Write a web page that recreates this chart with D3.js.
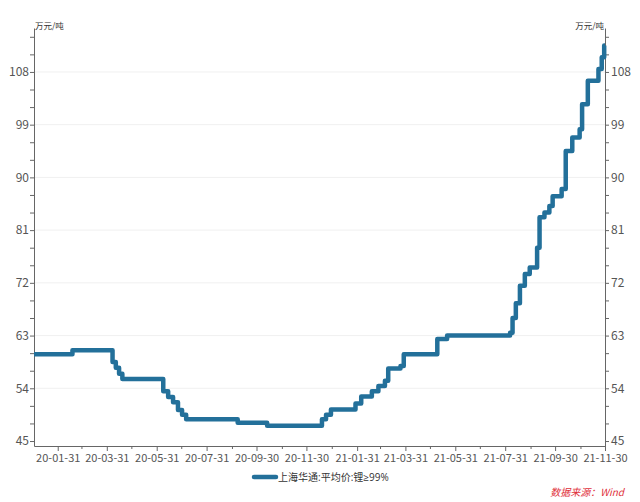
<!DOCTYPE html>
<html>
<head>
<meta charset="utf-8">
<script src="https://cdn.jsdelivr.net/npm/d3@7"></script>
<style>
	body { margin: 0; background: #fff; }
	text { font-family: "Noto Sans CJK SC", "Noto Sans", sans-serif; }
</style>
</head>
<body>
<svg id="chart"></svg>
<script>
// step changes: date the price moved to the level
var priceDates = [
	"2020-01-02", "2020-02-18", "2020-04-07", "2020-04-11", "2020-04-15", "2020-04-19",
	"2020-06-08", "2020-06-14", "2020-06-20", "2020-06-26", "2020-07-01", "2020-07-06",
	"2020-09-07", "2020-10-13", "2020-12-19", "2020-12-24", "2020-12-30",
	"2021-01-29", "2021-02-05", "2021-02-18", "2021-02-26", "2021-03-06", "2021-03-10",
	"2021-03-25", "2021-03-29", "2021-05-09", "2021-05-21",
	"2021-08-06", "2021-08-09", "2021-08-13", "2021-08-18", "2021-08-24", "2021-08-30",
	"2021-09-08", "2021-09-11", "2021-09-17", "2021-09-23", "2021-09-27", "2021-10-08",
	"2021-10-13", "2021-10-21", "2021-10-30", "2021-11-02", "2021-11-09", "2021-11-22",
	"2021-11-26", "2021-11-29", "2021-11-30"
];
var priceValues = [
	59.8, 60.5, 58.5, 57.5, 56.5, 55.6,
	53.5, 52.5, 51.6, 50.3, 49.5, 48.7,
	48.1, 47.6, 48.7, 49.5, 50.4,
	51.4, 52.6, 53.5, 54.4, 55.3, 57.4,
	57.8, 59.8, 62.4, 63.0,
	63.5, 66.0, 68.5, 71.5, 73.5, 74.6,
	78.0, 83.2, 84.0, 85.1, 86.8, 88.0,
	94.5, 96.8, 98.2, 102.5, 106.5, 108.5,
	110.5, 112.5, 112.5
];
var xTickLabels = ["20-01-31", "20-03-31", "20-05-31", "20-07-31", "20-09-30", "20-11-30",
	"21-01-31", "21-03-31", "21-05-31", "21-07-31", "21-09-30", "21-11-30"];
var yTickLabels = [45, 54, 63, 72, 81, 90, 99, 108];
var seriesName = "上海华通:平均价:锂≥99%";
var unitLabel = "万元/吨";
var sourceLabel = "数据来源：Wind";

var width = 640, height = 502;
var margin = { top: 28, right: 35, bottom: 56, left: 34 };
var lineColor = "#23709a";

var svg = d3.select("#chart")
	.attr("width", width)
	.attr("height", height);

var parse = d3.utcParse("%Y-%m-%d");
var data = priceDates.map(function(d, i) { return { date: parse(d), value: priceValues[i] }; });

var xScale = d3.scaleUtc()
	.domain([parse("2020-01-02"), parse("2021-11-30")])
	.range([margin.left, width - margin.right]);
var yScale = d3.scaleLinear()
	.domain([44.15, 115.5])
	.range([height - margin.bottom, margin.top]);

// grid lines
svg.append("g").selectAll("line")
	.data(yTickLabels.slice(1))
	.enter().append("line")
	.attr("x1", margin.left)
	.attr("x2", width - margin.right)
	.attr("y1", function(d) { return yScale(d); })
	.attr("y2", function(d) { return yScale(d); })
	.attr("stroke", "#f0f0f0")
	.attr("stroke-width", 1);

// y axes: minor every 3, labels every 9
var yMinor = d3.range(45, 115, 3);
function styleAxis(g) {
	g.select(".domain").attr("stroke", "#666");
	g.selectAll(".tick line").attr("stroke", "#666");
	g.selectAll(".tick text").attr("fill", "#555").style("font-size", "12px");
}
var yLeft = svg.append("g")
	.attr("transform", "translate(" + margin.left + ",0)")
	.call(d3.axisLeft(yScale).tickValues(yMinor).tickSize(4).tickSizeOuter(0)
		.tickFormat(function(d) { return yTickLabels.indexOf(d) >= 0 ? d : ""; }))
	.call(styleAxis);
yLeft.selectAll(".tick text").attr("x", -5);
var yRight = svg.append("g")
	.attr("transform", "translate(" + (width - margin.right) + ",0)")
	.call(d3.axisRight(yScale).tickValues(yMinor).tickSize(4).tickSizeOuter(0)
		.tickFormat(function(d) { return yTickLabels.indexOf(d) >= 0 ? d : ""; }))
	.call(styleAxis);
yRight.selectAll(".tick text").attr("x", 6);

// x axis: month ends, labelled every other one
var monthEnds = d3.utcMonth.range(parse("2020-02-01"), parse("2021-12-02"))
	.map(function(d) { return d3.utcDay.offset(d, -1); });
var xAxis = svg.append("g")
	.attr("transform", "translate(0," + (height - margin.bottom) + ")")
	.call(d3.axisBottom(xScale).tickValues(monthEnds).tickSizeOuter(0)
		.tickFormat(function(d) {
			var f = d3.utcFormat("%y-%m-%d")(d);
			return xTickLabels.indexOf(f) >= 0 ? f : "";
		}))
	.call(styleAxis);
xAxis.selectAll(".tick line").attr("y2", function(d) {
	return xTickLabels.indexOf(d3.utcFormat("%y-%m-%d")(d)) >= 0 ? 5 : 3;
});
xAxis.selectAll(".tick text").style("font-size", "11px").attr("y", 8);

// units
svg.append("text")
	.attr("x", margin.left + 1).attr("y", 29)
	.attr("fill", "#333").style("font-size", "8.5px")
	.text(unitLabel);
svg.append("text")
	.attr("x", width - margin.right - 1).attr("y", 29)
	.attr("text-anchor", "end")
	.attr("fill", "#333").style("font-size", "8.5px")
	.text(unitLabel);

// price line
var line = d3.line()
	.x(function(d) { return xScale(d.date); })
	.y(function(d) { return yScale(d.value); })
	.curve(d3.curveStepAfter);
svg.append("path")
	.datum(data)
	.attr("d", line)
	.attr("fill", "none")
	.attr("stroke", lineColor)
	.attr("stroke-width", 4.5)
	.attr("stroke-linejoin", "round");

// legend
var legend = svg.append("g").attr("transform", "translate(254,477)");
legend.append("line")
	.attr("x1", 0).attr("x2", 22).attr("y1", 0).attr("y2", 0)
	.attr("stroke", lineColor).attr("stroke-width", 4.5).attr("stroke-linecap", "round");
legend.append("text")
	.attr("x", 24).attr("y", 4)
	.attr("fill", "#333").style("font-size", "10px")
	.style("font-family", "'Open Sans', 'Noto Sans CJK SC', sans-serif")
	.text(seriesName);

// source
svg.append("text")
	.attr("x", 624).attr("y", 496)
	.attr("text-anchor", "end")
	.attr("fill", "#e0313b").style("font-size", "10px").style("font-style", "italic")
	.text(sourceLabel);
</script>
</body>
</html>
